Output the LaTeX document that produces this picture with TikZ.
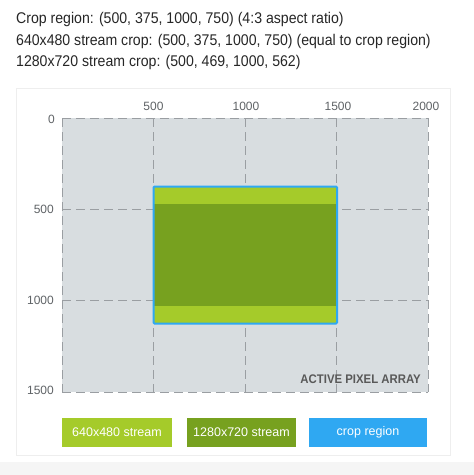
\documentclass[tikz,border=0pt]{standalone}
\usepackage{fontspec}
\setmainfont{Liberation Sans}
\newfontfamily\narrowfont[FakeStretch=0.91]{Liberation Sans}
\definecolor{lgreen}{HTML}{A5CB2A}
\definecolor{dgreen}{HTML}{77A11F}
\definecolor{cblue}{HTML}{2FA8F2}
\definecolor{gridbg}{HTML}{D8DDE0}
\definecolor{gridln}{HTML}{9A9EA2}
\definecolor{axtxt}{HTML}{5F6366}
\definecolor{paneln}{HTML}{EEEEEE}
\begin{document}
\begin{tikzpicture}[x=1pt,y=-1pt,
  hdr/.style={anchor=west,font=\narrowfont\fontsize{15.5}{18}\selectfont,text=black!85,inner sep=0pt},
  axl/.style={font=\fontsize{12}{14}\selectfont,text=axtxt,inner sep=0pt},
  gridline/.style={draw=gridln,line width=0.9pt,dash pattern=on 9pt off 5pt},
  legbox/.style={minimum height=29pt,inner sep=0pt,text=white,font=\fontsize{12.5}{15}\selectfont}]
\useasboundingbox (0,0) rectangle (474,475);
\fill[white] (0,0) rectangle (474,475);
% header
\node[hdr] (h1) at (16,19) {Crop region: (500, 375, 1000, 750) (4:3 aspect ratio)};
\node[hdr] (h2) at (16,41) {640x480 stream crop: (500, 375, 1000, 750) (equal to crop region)};
\node[hdr] (h3) at (16,62) {1280x720 stream crop: (500, 469, 1000, 562)};
% panel
\fill[black!4] (0,462) rectangle (474,475);
\draw[paneln,line width=0.8pt] (16,88) rectangle (450,455);
% pixel array
\fill[gridbg] (62,118) rectangle (428,392);
\foreach \x in {62,153.5,245,336.5,428} \draw[gridline] (\x,118) -- (\x,392);
\foreach \y in {118,209.3,300.7,392} \draw[gridline] (62,\y) -- (428,\y);
% axis labels
\node[axl] (t500) at (153.5,106) {500};
\node[axl] (t1000) at (246,106) {1000};
\node[axl] (t1500) at (338,106) {1500};
\node[axl] (t2000) at (426,106) {2000};
\node[axl,anchor=east] (l0) at (55,119) {0};
\node[axl,anchor=east] (l500) at (54,209.3) {500};
\node[axl,anchor=east] (l1000) at (54,300.7) {1000};
\node[axl,anchor=east] (l1500) at (54,390) {1500};
\node[anchor=east,inner sep=0pt,font=\narrowfont\fontsize{12.5}{15}\selectfont\bfseries,text=black!65] (apa) at (421,379) {ACTIVE PIXEL ARRAY};
% crop region and streams
\fill[lgreen] (153.5,186.5) rectangle (337,323.5);
\fill[dgreen] (153.5,203.5) rectangle (337,306);
\draw[cblue,line width=2pt,rounded corners=1pt] (153.5,186.5) rectangle (337,323.5);
% legend
\node[legbox,fill=lgreen,minimum width=110pt] (leg1) at (117,432.5) {640x480 stream};
\node[legbox,fill=dgreen,minimum width=109pt] (leg2) at (241.5,432.5) {1280x720 stream};
\node[legbox,fill=cblue,minimum width=118pt] (leg3) at (368,432.5) {crop region};
\end{tikzpicture}
\end{document}
